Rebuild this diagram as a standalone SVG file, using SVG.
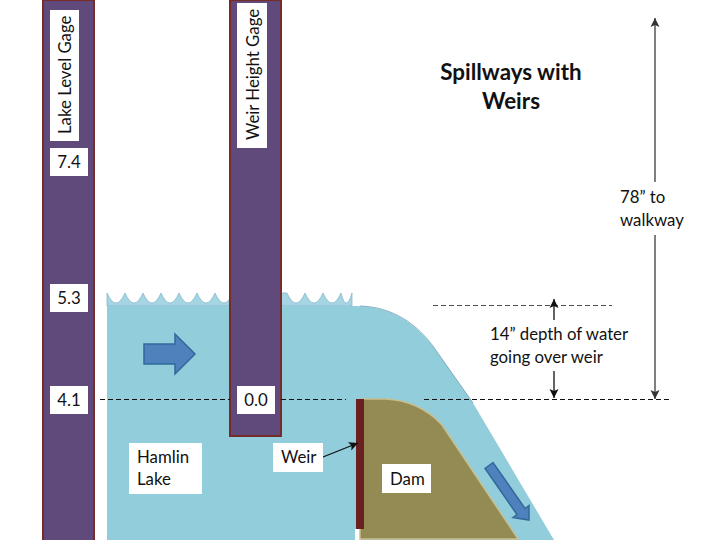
<svg xmlns="http://www.w3.org/2000/svg" width="720" height="540" viewBox="0 0 720 540">
<style>
text{font-family:Lato,"Liberation Sans",sans-serif;font-size:16.800px;fill:#111}
.box{fill:#fff}
.gage{fill:#604a7b;stroke:#772c2a;stroke-width:2}
.dash{stroke:#111;stroke-width:1;stroke-dasharray:5 3;fill:none}
.flow{fill:#4f81bd;stroke:#2f6a9b;stroke-width:1.500}
.arr{fill:none;stroke:#111;stroke-width:1.300;marker-end:url(#ah)}
.arrg{fill:none;stroke:#555;stroke-width:1.500;marker-end:url(#ahg)}
.title{font-size:22.400px;font-weight:700}
</style>
<defs>
<marker id="ah" markerUnits="userSpaceOnUse" markerWidth="10" markerHeight="10" refX="9" refY="5" orient="auto"><path d="M0 0.500L9 5L0 9.500L2 5Z" fill="#111"/></marker>
<marker id="ahg" markerUnits="userSpaceOnUse" markerWidth="10" markerHeight="10" refX="9" refY="5" orient="auto"><path d="M0 0.500L9 5L0 9.500L2 5Z" fill="#333"/></marker>
</defs>
<rect width="720" height="540" fill="#fff"/>
<g id="water">
<path d="M107 293Q116 313 125 293Q134 313 143 293Q152 313 161 293Q170 313 179 293Q188 313 197 293Q206 313 215 293Q224 313 233 293V306H107Z" fill="#a5d5e3" stroke="#7fb2c6" stroke-width=".7"/>
<path d="M287 293Q296 313 305 293Q314 313 323 293Q332 313 341 293Q346 313 352 293V306H280V293Z" fill="#a5d5e3" stroke="#7fb2c6" stroke-width=".7"/>
<path d="M107 306H355C390 306 415 322 435 349L473 403L554 540H107Z" fill="#92cddc"/>
<path d="M360 306C392 307 417 323 435 349L473 403" fill="none" stroke="#6f9fb5" stroke-width=".8"/>
<rect x="355" y="529" width="6" height="11" fill="#fff"/>
</g>
<g id="dam">
<path d="M361 399H385C410 400 428 410 442 425L518 539H360Z" fill="#948a54" stroke="#c9bd8c" stroke-width="1.500"/>
<rect x="356" y="399" width="8" height="130" fill="#6a2020"/>
</g>
<g id="flow-arrows">
<path class="flow" d="M144 344H175V334L195 354L175 374V364H144Z"/>
<path class="flow" d="M485 468.500L493 462.500L525 508.500L529 505.500L529 520L513 517.500L517 514.500Z"/>
</g>
<g id="lake-gage">
<rect class="gage" x="43" y="0" width="51" height="542"/>
<rect class="box" x="50" y="10" width="29" height="131"/>
<text transform="translate(71 134) rotate(-90)">Lake Level Gage</text>
</g>
<g id="weir-gage">
<rect class="gage" x="230" y="0" width="51" height="436"/>
<rect class="box" x="237" y="3" width="30" height="145"/>
<text transform="translate(259 140) rotate(-90)">Weir Height Gage</text>
</g>
<g id="connectors">
<path class="dash" d="M100 399.500H230M281 399.500H346M424 399.500H670"/>
<path class="dash" stroke-opacity=".75" d="M433 305.500H612"/>
<path class="arr" d="M554 320V299"/>
<path class="arr" d="M554 371V398"/>
<path class="arrg" d="M655 182V18"/>
<path class="arrg" d="M655 235V399"/>
<path class="arr" d="M323 457L358 443"/>
</g>
<g id="label-74"><rect class="box" x="50" y="148" width="38" height="28"/><text x="69" y="168" text-anchor="middle">7.4</text></g>
<g id="label-53"><rect class="box" x="50" y="284" width="38" height="28"/><text x="69" y="304" text-anchor="middle">5.3</text></g>
<g id="label-41"><rect class="box" x="50" y="386" width="38" height="28"/><text x="69" y="406" text-anchor="middle">4.1</text></g>
<g id="label-00"><rect class="box" x="237" y="386" width="38" height="28"/><text x="256" y="406" text-anchor="middle">0.0</text></g>
<g id="hamlin-lake"><rect class="box" x="129" y="443" width="73" height="51"/><text x="137" y="463">Hamlin</text><text x="137" y="485">Lake</text></g>
<g id="weir-label"><rect class="box" x="273" y="443" width="50" height="29"/><text x="281" y="463">Weir</text></g>
<g id="dam-label"><rect class="box" x="382" y="464" width="49" height="29"/><text x="390" y="485">Dam</text></g>
<g id="title"><text class="title" x="511" y="80" text-anchor="middle">Spillways with</text><text class="title" x="511" y="109" text-anchor="middle">Weirs</text></g>
<g id="walkway-label"><text x="620" y="203">78” to</text><text x="620" y="226">walkway</text></g>
<g id="depth-label"><text x="490" y="340">14” depth of water</text><text x="490" y="363">going over weir</text></g>
</svg>
